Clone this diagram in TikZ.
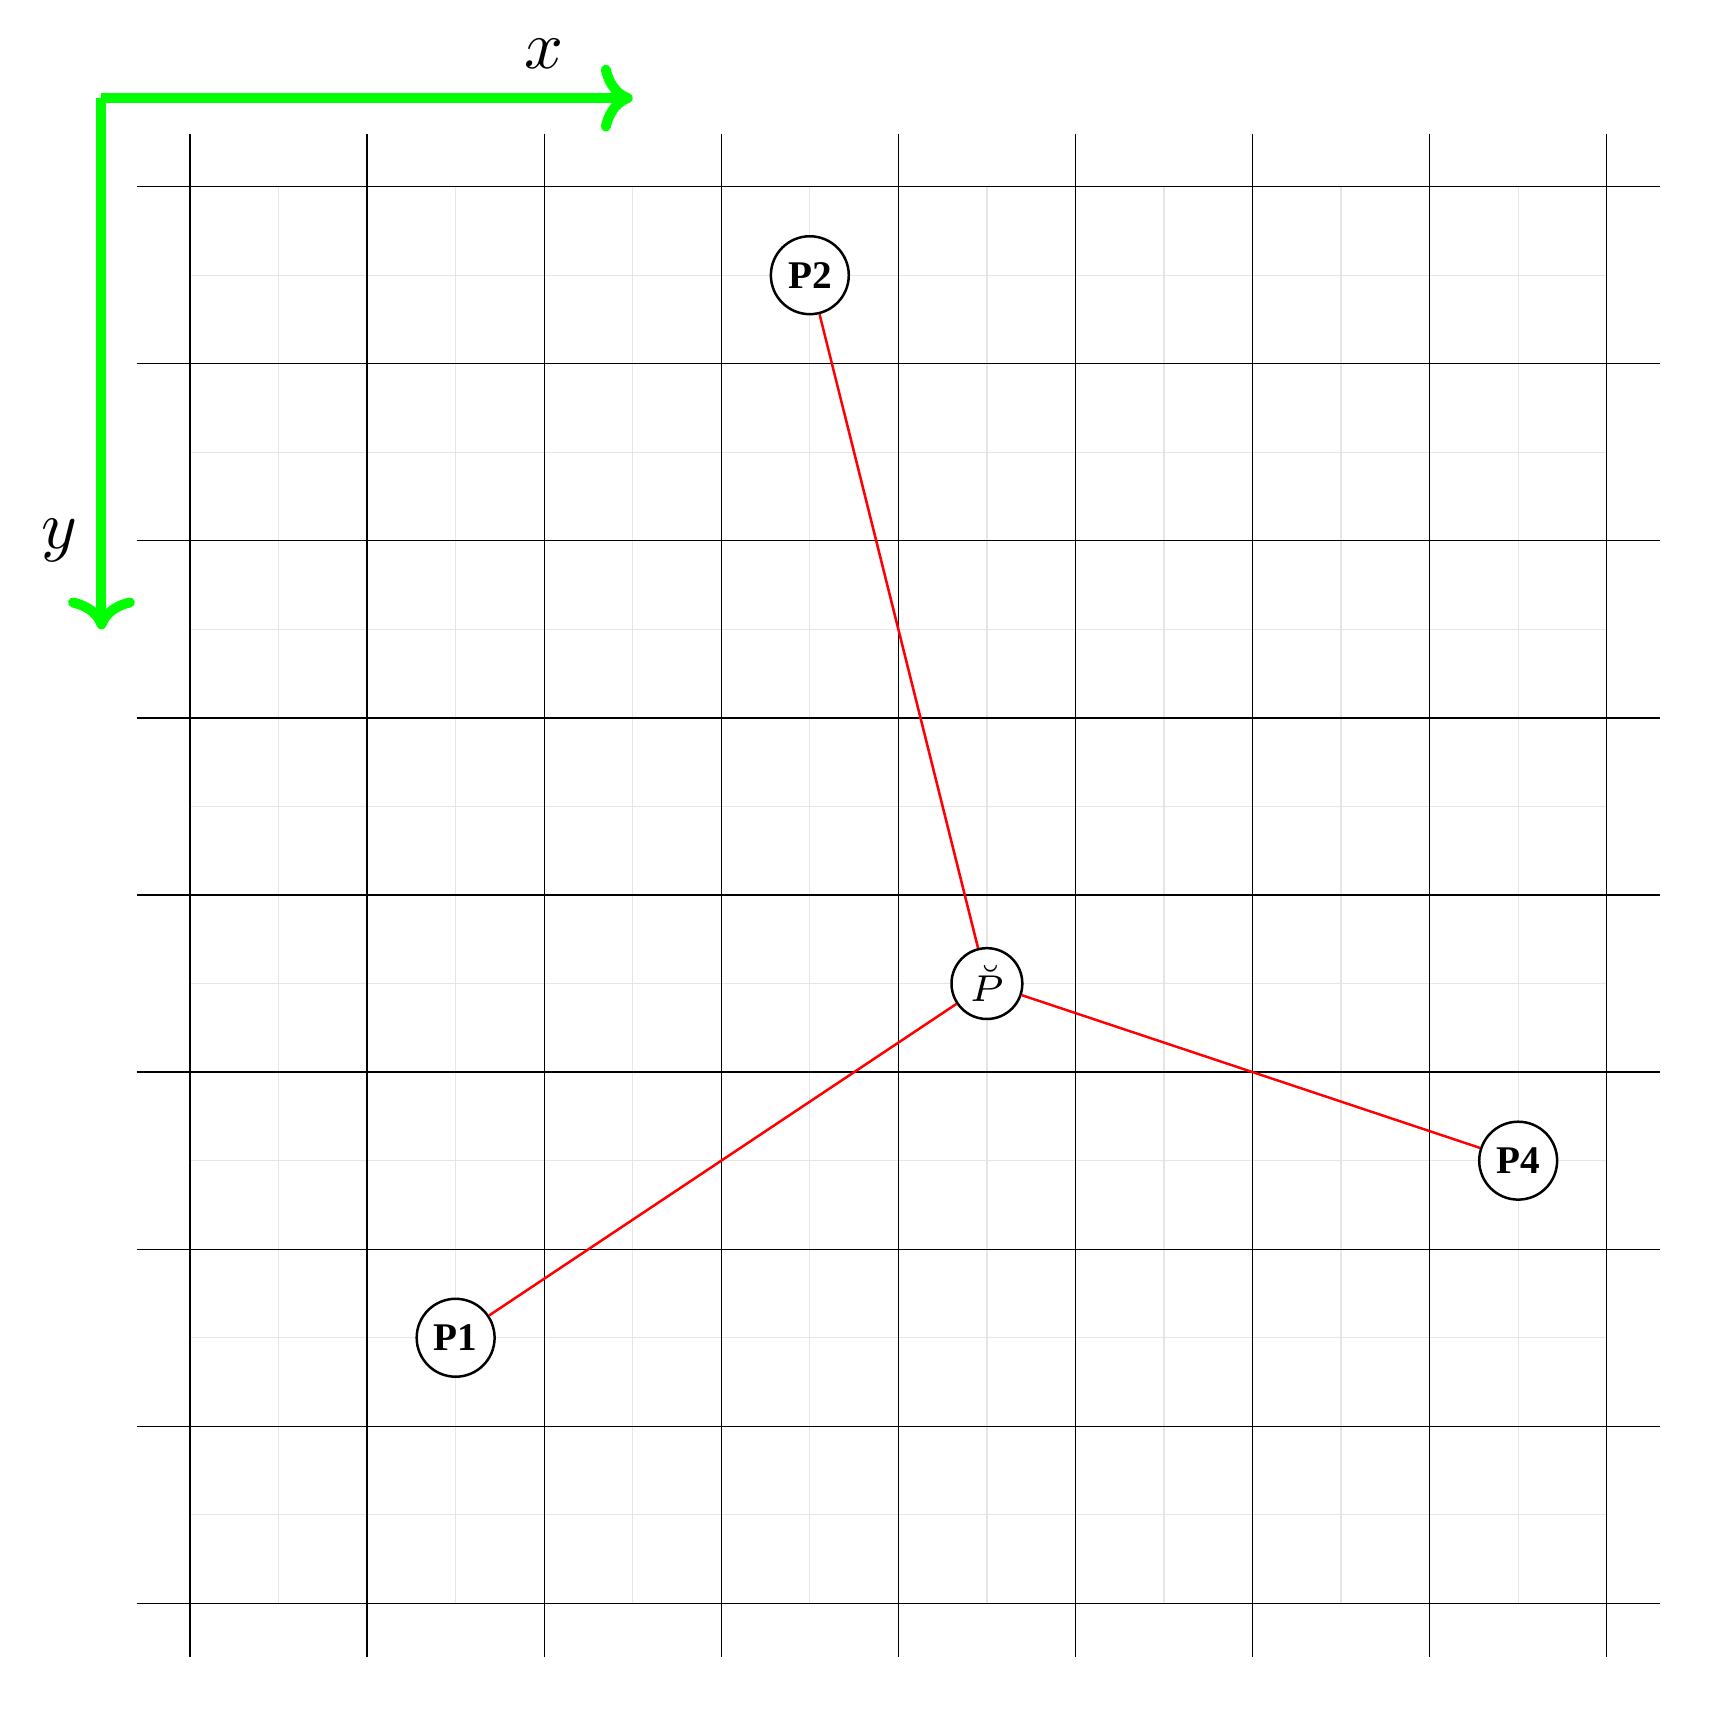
\documentclass[tikz,border=0pt]{standalone}
\usepackage{fontspec}
\newfontfamily\nodefont{Liberation Serif}
\usetikzlibrary{arrows.meta}
\begin{document}
\begin{tikzpicture}[x=1cm,y=-1cm,
  major/.style={black,line width=0.2pt},
  minor/.style={black!10,line width=0.2pt},
  pnode/.style={circle,draw,line width=0.4pt,minimum size=0.44cm,inner sep=0pt,fill=white,font=\nodefont\fontsize{6.3}{7}\selectfont\bfseries},
  link/.style={red,line width=0.4pt},
  axis/.style={green,line width=1.6pt,-{Computer Modern Rightarrow[line cap=round]}},
  axlabel/.style={font=\fontsize{11}{13}\selectfont}]
\useasboundingbox (-1.073,-1.054) rectangle (8.651,8.60);
\foreach \i in {0.5,1.5,...,7.5}{
  \draw[minor] (\i,0) -- (\i,8);
  \draw[minor] (0,\i) -- (8,\i);
}
\foreach \i in {0,...,8}{
  \draw[major] (\i,-0.3) -- (\i,8.3);
  \draw[major] (-0.3,\i) -- (8.3,\i);
}
\coordinate (O) at (-0.5,-0.5);
\coordinate (X) at (2.5,-0.5);
\coordinate (Y) at (-0.5,2.5);
\draw[axis] (O) -- (X);
\draw[axis] (O) -- (Y);
\node[axlabel] (xl) at (2,-0.75) {$x$};
\node[axlabel] (yl) at (-0.74,2.0) {$y$};
\node[pnode] (P2) at (3.5,0.5) {P2};
\node[pnode] (P1) at (1.5,6.5) {P1};
\node[pnode] (P4) at (7.5,5.5) {P4};
\node[pnode,minimum size=0.40cm,font=\fontsize{6}{7}\selectfont] (Pb) at (4.5,4.5) {$\breve{P}$};
\draw[link] (Pb) -- (P2);
\draw[link] (Pb) -- (P1);
\draw[link] (Pb) -- (P4);
\end{tikzpicture}
\end{document}
